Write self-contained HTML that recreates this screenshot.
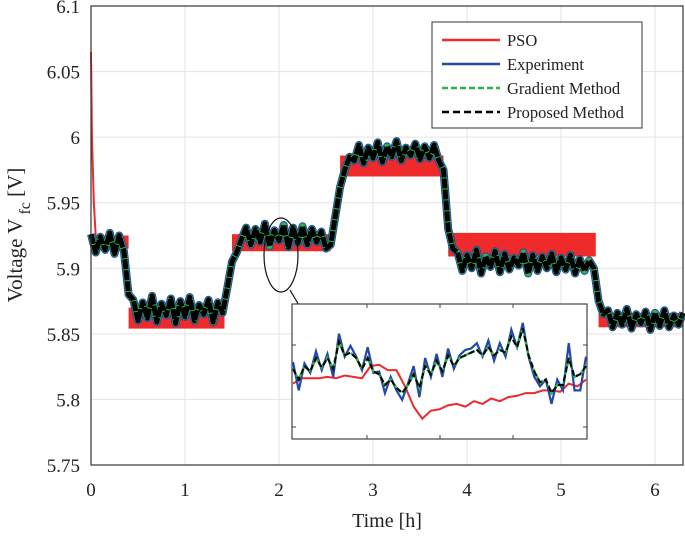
<!DOCTYPE html>
<html><head><meta charset="utf-8"><style>
body{margin:0;background:#fff;}
svg text{font-family:"Liberation Serif",serif;fill:#222;}
</style></head><body>
<svg id="c" width="685" height="534" xmlns="http://www.w3.org/2000/svg"></svg>
<script>
const xTicks=[0,1,2,3,4,5,6];
const yTicks=[5.75,5.8,5.85,5.9,5.95,6,6.05,6.1];
const yTickLabels=["5.75","5.8","5.85","5.9","5.95","6","6.05","6.1"];
const tStep=0.05;
const expV=[5.926,5.912,5.924,5.914,5.927,5.911,5.925,5.913,
5.88,
5.876,5.860,5.874,5.862,5.879,5.859,5.873,5.864,5.877,5.858,5.875,5.863,5.878,5.860,5.872,5.865,5.876,5.859,5.874,5.866,
5.885,5.905,5.912,5.922,
5.931,5.918,5.930,5.920,5.934,5.917,5.929,5.921,5.933,5.916,5.931,5.919,5.932,5.918,5.930,5.920,5.928,5.915,
5.918,5.940,5.962,5.975,5.985,
5.982,5.994,5.980,5.992,5.984,5.996,5.981,5.993,5.985,5.997,5.982,5.992,5.986,5.995,5.983,5.993,5.984,5.994,5.982,
5.975,5.93,5.915,
5.912,5.898,5.910,5.900,5.914,5.896,5.909,5.901,5.913,5.897,5.911,5.899,5.908,5.902,5.912,5.896,5.910,5.898,5.909,5.900,5.911,5.897,5.908,5.899,5.910,5.896,5.907,5.898,5.906,
5.900,5.875,5.865,
5.868,5.855,5.866,5.857,5.869,5.854,5.865,5.858,5.867,5.853,5.866,5.856,5.868,5.855,5.864,5.857,5.866];
const gradV=expV.slice();
const propV=expV.slice();
const psoT0=[0.05,0.4,1.5,2.65,3.8,5.4];
const psoT1=[0.4,1.42,2.55,3.75,5.37,6.3];
const psoLo=[5.915,5.854,5.913,5.970,5.909,5.855];
const psoHi=[5.925,5.870,5.926,5.986,5.927,5.866];
const psoSpikeT=[0,0.01,0.03,0.05];
const psoSpikeV=[6.065,6.0,5.95,5.925];
const insBlue=[57,36,56,49,65,51,63,46,78,61,69,61,51,68,49,50,34,46,36,29,41,54,31,60,46,63,46,67,52,62,66,67,71,61,73,58,71,61,81,68,86,61,46,39,44,26,44,36,71,36,36,61];
const insBlack=[52,44,54,50,60,53,60,52,72,62,64,60,52,60,50,48,40,44,38,34,40,48,38,54,48,58,50,62,54,60,62,64,66,62,68,62,66,64,76,68,82,62,50,42,44,34,40,40,60,46,48,54];
const insRed=[41,45,45,45,46,45,47,46,45,54,55,51,51,39,24,15,21,22,25,26,24,28,26,30,28,31,32,34,34,36,36,35,41,39,44];

const NS="http://www.w3.org/2000/svg";
const svg=document.getElementById('c');
const X0=91,X1=683,Y0=6,Y1=465;
const xs=t=>X0+t*94;
const ys=v=>Y0+(6.1-v)/0.35*(Y1-Y0);
function mk(tag,attrs,parent){const e=document.createElementNS(NS,tag);for(const k in attrs)e.setAttribute(k,attrs[k]);(parent||svg).appendChild(e);return e;}

xTicks.forEach(t=>{const g=mk('line',{x1:xs(t),x2:xs(t),y1:Y0,y2:Y1,stroke:'#e3e3e3','stroke-width':1});

const l=mk('text',{x:xs(t),y:496,'font-size':19,'text-anchor':'middle'});l.textContent=t;
});
yTicks.forEach((v,i)=>{const g=mk('line',{x1:X0,x2:X1,y1:ys(v),y2:ys(v),stroke:'#e3e3e3','stroke-width':1});

const l=mk('text',{x:80,y:ys(v)+7,'font-size':19,'text-anchor':'end'});l.textContent=yTickLabels[i];
});

psoT0.forEach((t0,i)=>{const r=mk('rect',{x:xs(t0),y:ys(psoHi[i]),width:xs(psoT1[i])-xs(t0),height:ys(psoLo[i])-ys(psoHi[i]),fill:'#ee2a2a'});
});
const sp=mk('polyline',{points:psoSpikeT.map((t,i)=>xs(t)+','+ys(psoSpikeV[i])).join(' '),fill:'none',stroke:'#ee2a2a','stroke-width':2});


function pts(arr){return arr.map((v,i)=>xs(i*tStep)+','+ys(v)).join(' ');}
const eb=mk('polyline',{points:pts(expV),fill:'none',stroke:'#2448a8','stroke-width':8,'stroke-linejoin':'round'});

const gl=mk('polyline',{points:pts(gradV),fill:'none',stroke:'#2fb24a','stroke-width':6,'stroke-linejoin':'round'});

const pl=mk('polyline',{points:pts(propV),fill:'none',stroke:'#000','stroke-width':5,'stroke-dasharray':'10 1','stroke-linejoin':'round'});


const ax=mk('rect',{x:X0,y:Y0,width:X1-X0,height:Y1-Y0,fill:'none',stroke:'#333','stroke-width':1.2});


const el=mk('ellipse',{cx:281,cy:255,rx:17,ry:37,fill:'none',stroke:'#111','stroke-width':1.2});

const ar=mk('line',{x1:290,y1:290,x2:313,y2:329,stroke:'#111','stroke-width':1.2});

const ah=mk('polygon',{points:'316,334 307,326 314,323',fill:'#111'});


const IX0=292,IX1=587,IY0=304,IY1=439;
const ib=mk('rect',{x:IX0,y:IY0,width:IX1-IX0,height:IY1-IY0,fill:'#fff',stroke:'#444','stroke-width':1.2});

[367,440,513].forEach(x=>{mk('line',{x1:x,x2:x,y1:IY0,y2:IY0+4,stroke:'#444'});mk('line',{x1:x,x2:x,y1:IY1,y2:IY1-4,stroke:'#444'});});
[345,427].forEach(y=>{mk('line',{x1:IX0,x2:IX0+4,y1:y,y2:y,stroke:'#444'});mk('line',{x1:IX1,x2:IX1-4,y1:y,y2:y,stroke:'#444'});});
const iy=v=>IY1-v*1.35;
function ipts(arr){const n=arr.length;return arr.map((v,i)=>(IX0+1+i*(IX1-IX0-2)/(n-1))+','+iy(v)).join(' ');}
const ir=mk('polyline',{points:ipts(insRed),fill:'none',stroke:'#ee2a2a','stroke-width':2});

const ibl=mk('polyline',{points:ipts(insBlue),fill:'none',stroke:'#2448a8','stroke-width':2.2});

const ig=mk('polyline',{points:ipts(insBlack),fill:'none',stroke:'#2fb24a','stroke-width':2.5,'stroke-dasharray':'5 2'});

const ik=mk('polyline',{points:ipts(insBlack),fill:'none',stroke:'#000','stroke-width':2,'stroke-dasharray':'6 3'});


const lg=mk('rect',{x:432,y:22,width:210,height:106,fill:'#fff',stroke:'#333','stroke-width':1});

const lItems=[['PSO','#ee2a2a',''],['Experiment','#2448a8',''],['Gradient Method','#2fb24a','6 3'],['Proposed Method','#000','7 4']];
lItems.forEach((it,i)=>{const y=40+i*24;
const ln=mk('line',{x1:442,x2:500,y1:y,y2:y,stroke:it[1],'stroke-width':2.5,'stroke-dasharray':it[2]});

const t=mk('text',{x:507,y:y+6,'font-size':16.5});t.textContent=it[0];
});

const xt=mk('text',{x:387,y:527,'font-size':20,'text-anchor':'middle'});xt.textContent='Time [h]';

const yt=mk('text',{x:0,y:0,'font-size':21,'text-anchor':'middle',transform:'translate(22,235) rotate(-90)'});
yt.innerHTML='Voltage V<tspan dy="8" font-size="16"> fc</tspan><tspan dy="-8"> [V]</tspan>';

</script>
</body></html>
